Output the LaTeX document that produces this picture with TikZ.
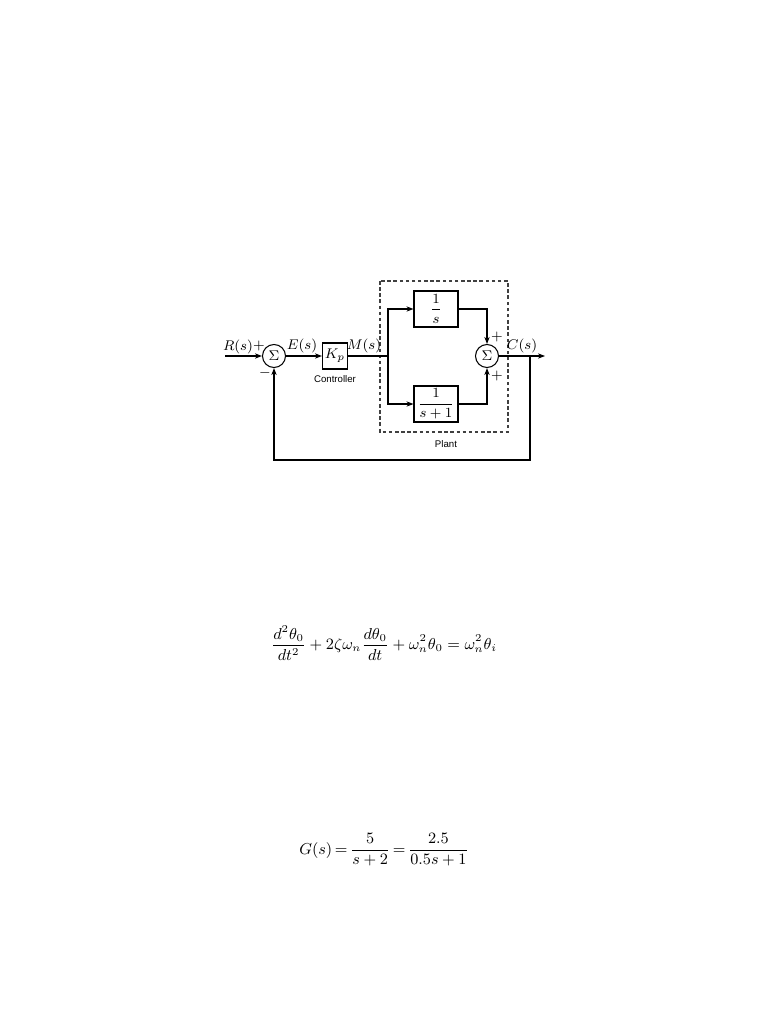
\documentclass[tikz,border=0pt]{standalone}
\usepackage{amsmath}
\usepackage{fontspec}
\newfontfamily\plainsans{Liberation Sans}
\usetikzlibrary{arrows.meta}

\begin{document}
\begin{tikzpicture}[x=0.02cm,y=-0.02cm,
line width=0.6pt, >={Stealth[length=4pt,width=3pt]},
sumnode/.style = {% summing junctions
    draw, circle, inner sep=0pt, minimum size=0.46cm, font=\footnotesize,
            },
blk/.style = {% transfer function blocks
    draw, inner sep=1pt, minimum width=0.88cm, minimum height=0.72cm,
    font=\footnotesize,
            },
sig/.style = {% signal names and signs
    inner sep=1pt, font=\footnotesize,
            },
blkcap/.style = {% block captions
    inner sep=1pt, font=\plainsans\fontsize{5.5}{6}\selectfont,
            },
eqn/.style = {% equations below the diagram
    inner sep=0pt, font=\fontsize{9.2}{11}\selectfont,
            },                        ]

 \useasboundingbox (0,0) rectangle (768,1024);

 % controller and summing points
 \node[sumnode] (sum1) at (274,356) {$\Sigma$};
 \node[blk, minimum width=0.5cm, minimum height=0.52cm] (kp) at (335,356) {$K_p$};
 \node[blkcap] (ctl) at (335,379) {Controller};

 % plant
 \draw[dashed, dash pattern=on 2pt off 1.5pt, draw=black!75] (380,281) rectangle (508,432);
 \node[blk] (inv) at (436,309) {$\dfrac{1}{s}$};
 \node[blk] (lag) at (436,404) {$\dfrac{1}{s+1}$};
 \node[sumnode] (sum2) at (487,356) {$\Sigma$};
 \node[blkcap] (plant) at (446,444) {Plant};

 \coordinate (in) at (225,356);
 \coordinate (branch) at (388,356);
 \coordinate (tap) at (530,356);
 \coordinate (out) at (545,356);
 \coordinate (fb) at (530,460);

 \draw[->] (in) -- (sum1);
 \draw[->] (sum1) -- (kp);
 \draw (kp) -- (branch);
 \draw[->] (branch) |- (inv);
 \draw[->] (branch) |- (lag);
 \draw[->] (inv) -| (sum2);
 \draw[->] (lag) -| (sum2);
 \draw[->] (sum2) -- (out);
 \draw[->] (tap) -- (fb) -| (sum1);

 % signal labels
 \node[sig] (rs) at (238,347) {$R(s)$};
 \node[sig] (pin) at (259,346) {$+$};
 \node[sig] (nfb) at (265,373) {$-$};
 \node[sig] (es) at (302,346) {$E(s)$};
 \node[sig] (ms) at (364,346) {$M(s)$};
 \node[sig] (cs) at (522,346) {$C(s)$};
 \node[sig] (ptop) at (497,337) {$+$};
 \node[sig] (pbot) at (497,376) {$+$};

 % equations
 \node[eqn] (eq1) at (384,643)
   {$\displaystyle \frac{d^2\theta_0}{dt^2}+2\zeta\omega_n\frac{d\theta_0}{dt}
     +\omega_n^2\theta_0=\omega_n^2\theta_i$};
 \node[eqn] (eq2) at (384,850)
   {$\thickmuskip=3mu
     \displaystyle G(s)=\frac{5}{s+2}=\frac{2.5}{0.5s+1}$};

\end{tikzpicture}
\end{document}
